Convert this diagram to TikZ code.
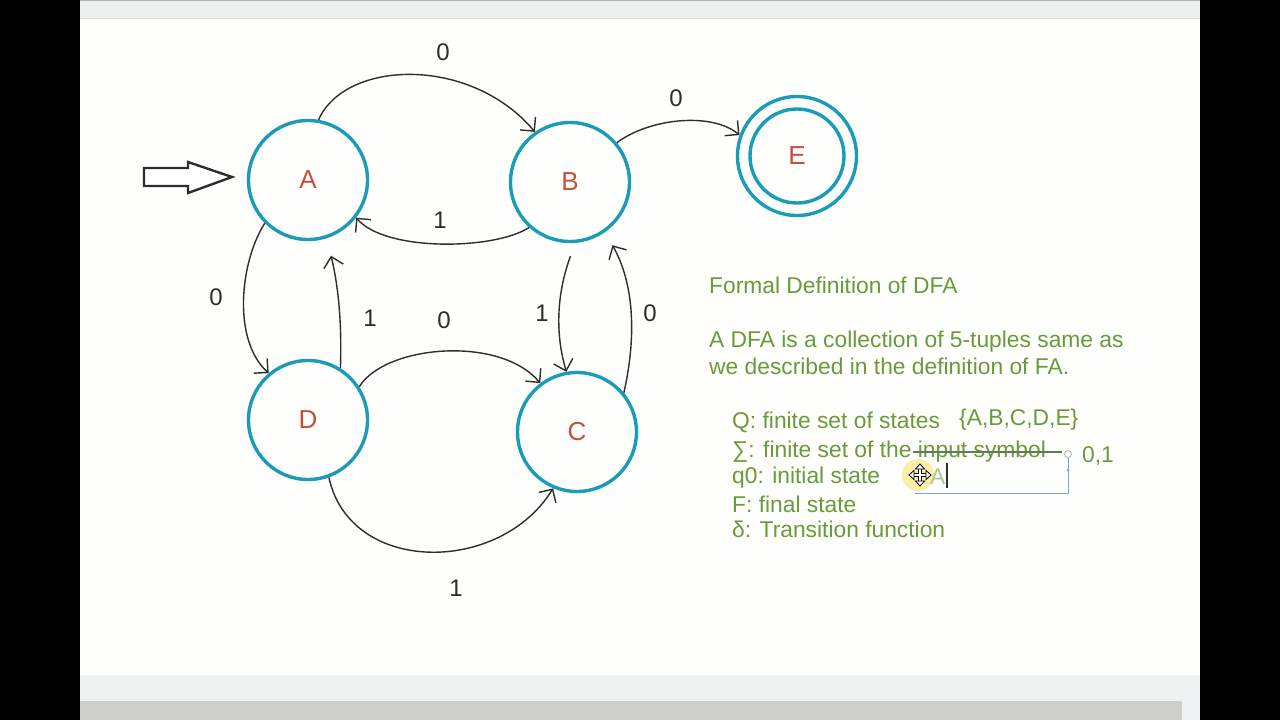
\documentclass[tikz,border=0pt]{standalone}
\usepackage{fontspec}
\setmainfont{Liberation Sans}
\usetikzlibrary{arrows.meta}
\definecolor{teal1}{RGB}{26,156,184}
\definecolor{red1}{RGB}{196,80,60}
\definecolor{green1}{RGB}{106,154,58}
\definecolor{ink}{RGB}{45,45,45}
\definecolor{pagebg}{RGB}{254,254,252}
\definecolor{topgray}{RGB}{238,239,239}
\definecolor{botgray}{RGB}{238,241,241}
\definecolor{bardark}{RGB}{205,205,202}
\definecolor{boxblue}{RGB}{130,160,200}
\definecolor{strike}{RGB}{100,120,90}
\tikzset{
  state/.style={circle, draw=teal1, line width=3.4pt, minimum size=119pt, inner sep=0pt,
    text=red1, font=\fontsize{26}{30}\selectfont},
  edge/.style={draw=ink, line width=1.4pt, -{Straight Barb[length=10pt,width=20pt,line width=1.4pt]}},
  lab/.style={text=ink, font=\fontsize{24}{28}\selectfont, inner sep=0pt},
  deftext/.style={text=green1, font=\fontsize{22.8}{26}\selectfont, anchor=base west, inner sep=0pt},
}
\begin{document}
\begin{tikzpicture}[x=1pt,y=-1pt]
% background
\fill[black] (0,0) rectangle (1280,720);
\fill[pagebg] (80,0) rectangle (1200,675);
\fill[topgray] (80,0) rectangle (1200,18);
\draw[gray!60, line width=1pt] (80,0.5) -- (1200,0.5);
\draw[gray!25, line width=1pt] (80,18) -- (1200,18);
\fill[botgray] (80,675) rectangle (1200,720);
\fill[bardark] (80,701) rectangle (1182,720);
\useasboundingbox (0,0) rectangle (1280,720);

% states
\node[state] (A) at (308,180) {A};
\node[state] (B) at (570,182) {B};
\node[state] (D) at (308,420) {D};
\node[state] (C) at (577,432) {C};
\node[state] (E) at (797,156) {};
\node[state, minimum size=94pt] (Ein) at (797,156) {E};

% initial arrow
\draw[ink, line width=2.4pt, line join=miter, fill=white]
  (144,168) -- (188,168) -- (188,162) -- (232,177) -- (188,193) -- (188,186) -- (144,186) -- cycle;

% transitions
\draw[edge] (A.80) .. controls (345,60) and (470,55) .. (B.125);
\draw[edge] (B.40) .. controls (650,118) and (712,112) .. (E.160);
\draw[edge] (B.228) .. controls (495,250) and (385,252) .. (A.-38);
\draw[edge] (A.225) .. controls (240,262) and (232,340) .. (D.130);
\draw[edge, shorten >=18pt] (D.58) .. controls (342,320) and (338,285) .. (A.-72);
\draw[edge] (D.33) .. controls (385,345) and (500,335) .. (C.127);
\draw[edge, shorten <=14pt] (B.-85) .. controls (558,290) and (554,330) .. (C.100);
\draw[edge, shorten >=15pt] (C.40) .. controls (638,330) and (632,280) .. (B.-55);
\draw[edge] (D.-70) .. controls (350,575) and (500,575) .. (C.-113);

% labels
\node[lab] (l1) at (443,52) {0};
\node[lab] (l2) at (676,98) {0};
\node[lab] (l3) at (440,220) {1};
\node[lab] (l4) at (216,297) {0};
\node[lab] (l5) at (370,318) {1};
\node[lab] (l6) at (444,320) {0};
\node[lab] (l7) at (542,313) {1};
\node[lab] (l8) at (650,313) {0};
\node[lab] (l9) at (456,588) {1};

% definition text
\node[deftext] (t1) at (709,293) {Formal Definition of DFA};
\node[deftext] (t2) at (709,347) {A DFA is a collection of 5-tuples same as};
\node[deftext] (t3) at (709,374) {we described in the definition of FA.};
\node[deftext] (q1) at (732,428) {Q: finite set of states};
\node[deftext] (q1b) at (959,425) {\{A,B,C,D,E\}};
\node[deftext] (q2) at (732,457) {∑: finite set of the input symbol};
\node[deftext] (q2b) at (1082,462) {0,1};
\node[deftext] (q3) at (732,483) {q0: initial state};
\node[deftext] (q4) at (732,512) {F: final state};
\node[deftext] (q5) at (732,537) {δ: Transition function};

% text box being edited
\draw[strike, line width=1.2pt] (913,452) -- (1062,452);
\draw[boxblue, line width=0.8pt] (1068,458) -- (1068,493) -- (915,493);
\draw[gray!60, line width=0.8pt, fill=white] (1068,454) circle (3.5);
\fill[boxblue] (1068,470) circle (1.5);
\fill[yellow!70!orange, opacity=0.35] (918,475) circle (16);
\node[deftext, text=green1!55!white] (qa) at (930,484) {A};
\draw[ink, line width=1.2pt] (947,463) -- (947,488);
% move cursor icon
\begin{scope}[shift={(920,475)}]
  \draw[black, line width=3.2pt] (-9,0) -- (9,0) (0,-9) -- (0,9);
  \draw[white, line width=1.4pt] (-8,0) -- (8,0) (0,-8) -- (0,8);
  \foreach \r in {0,90,180,270}{
    \draw[black, line width=0.8pt, fill=white, rotate=\r] (11,0) -- (6,-4.5) -- (6,4.5) -- cycle;
  }
\end{scope}
\end{tikzpicture}
\end{document}
